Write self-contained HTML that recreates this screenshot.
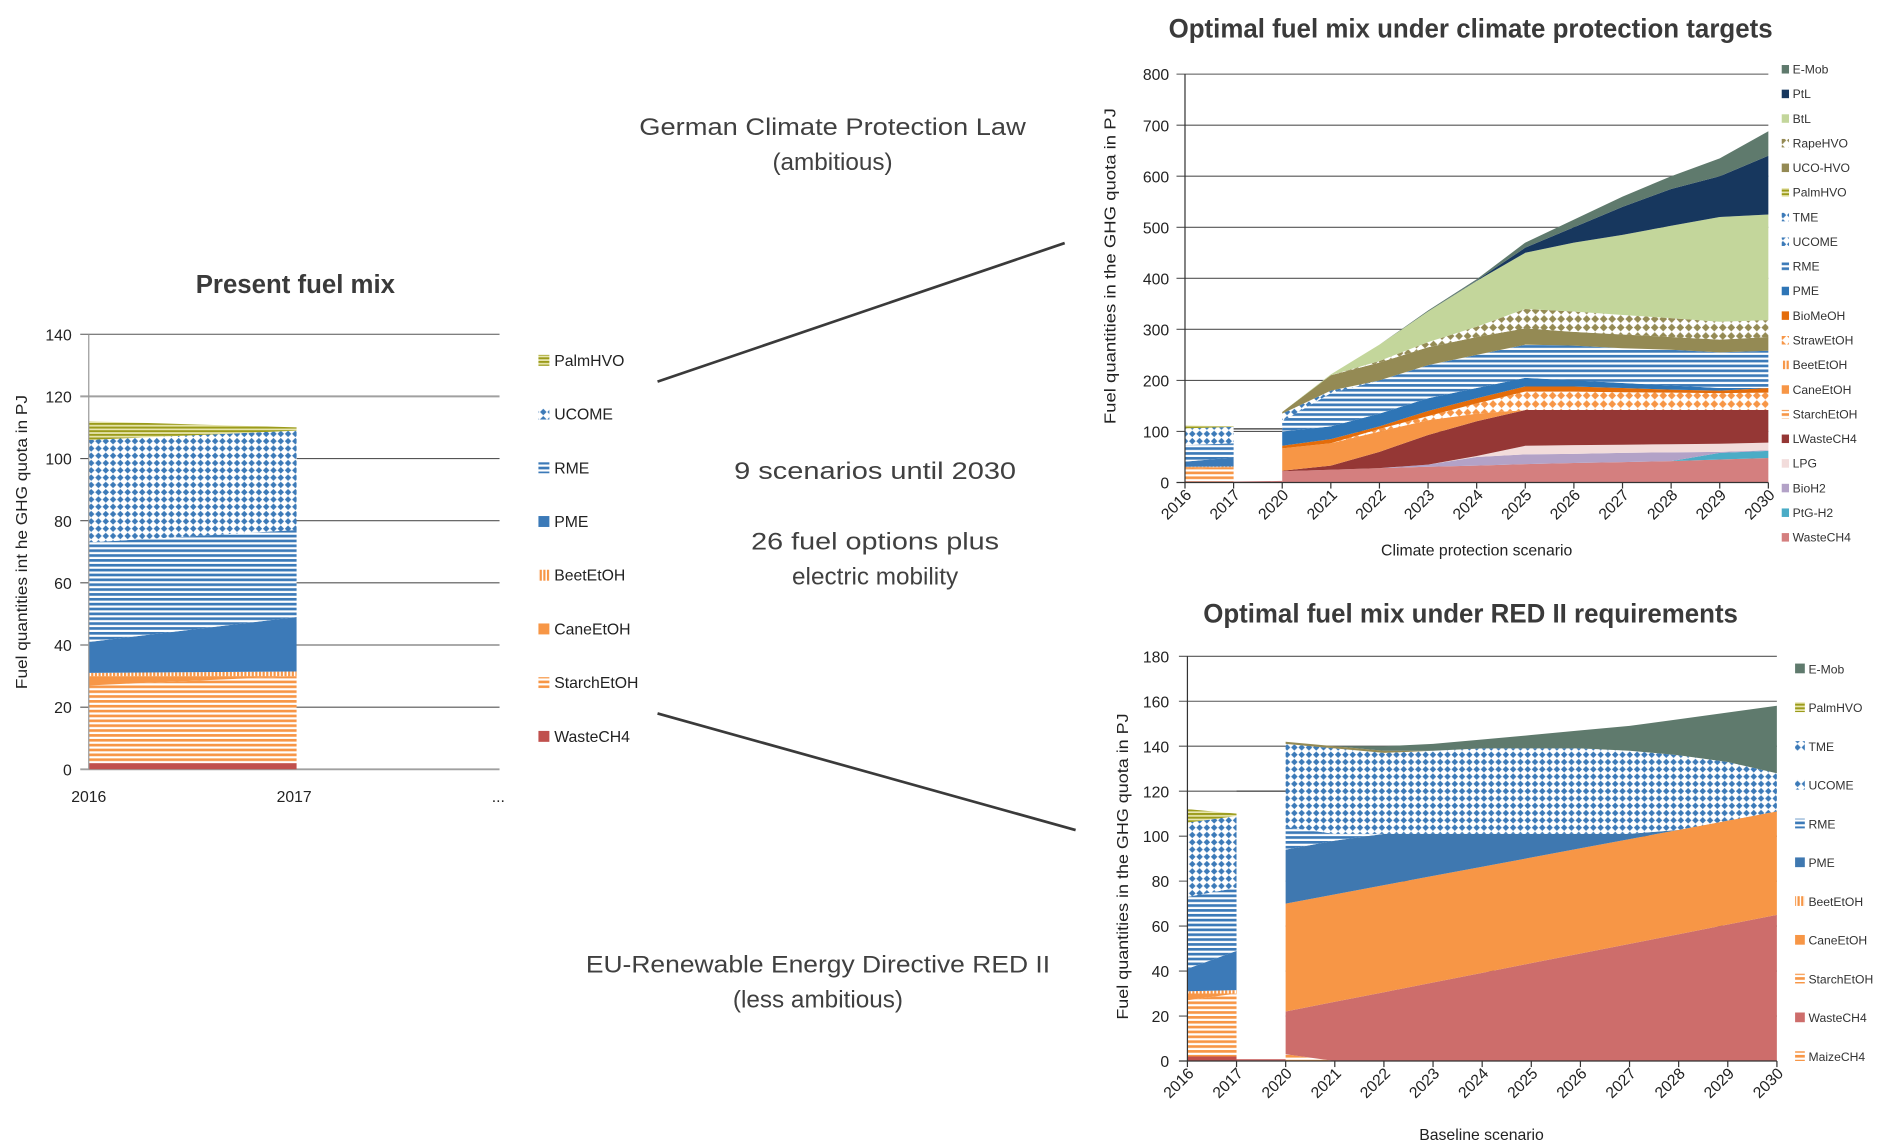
<!DOCTYPE html>
<html><head><meta charset="utf-8">
<style>
html,body{margin:0;padding:0;background:#fff;}
svg{display:block;}
text{font-family:"Liberation Sans",sans-serif;fill:#404040;}
.t{font-family:"Liberation Sans Narrow","Liberation Sans",sans-serif;fill:#3a3a3a;font-weight:bold;}
.mid{font-size:20px;fill:#404040;}
.tick{font-size:13px;fill:#222;}
.lg{font-size:10px;fill:#333;}
</style></head><body>
<svg id="s" width="1896" height="1144" viewBox="0 0 1560 941.3" xmlns="http://www.w3.org/2000/svg">
<defs>
<pattern id="hB" width="6" height="4" patternUnits="userSpaceOnUse"><rect width="6" height="4" fill="#fff"/><rect width="6" height="2.2" fill="#3c7ab8"/></pattern>
<pattern id="hO" width="6" height="4" patternUnits="userSpaceOnUse"><rect width="6" height="4" fill="#fff"/><rect width="6" height="2.2" fill="#f79646"/></pattern>
<pattern id="hG" width="6" height="3" patternUnits="userSpaceOnUse"><rect width="6" height="3" fill="#e8e6b0"/><rect width="6" height="1.6" fill="#9b9b1a"/></pattern>
<pattern id="vO" width="3" height="6" patternUnits="userSpaceOnUse"><rect width="3" height="6" fill="#fff"/><rect width="1.8" height="6" fill="#f79646"/></pattern>
<pattern id="dB" width="6" height="6" patternUnits="userSpaceOnUse"><rect width="6" height="6" fill="#fff"/><path d="M3 0.3L5.7 3L3 5.7L0.3 3Z" fill="#3c7ab8"/></pattern>
<pattern id="dO" width="7" height="7" patternUnits="userSpaceOnUse"><rect width="7" height="7" fill="#fff"/><path d="M3.5 0.3L6.7 3.5L3.5 6.7L0.3 3.5Z" fill="#f79646"/></pattern>
<pattern id="dG" width="7" height="7" patternUnits="userSpaceOnUse"><rect width="7" height="7" fill="#fff"/><path d="M3.5 0.3L6.7 3.5L3.5 6.7L0.3 3.5Z" fill="#948a54"/></pattern>
</defs>

<text class="t" x="243" y="241" font-size="21" text-anchor="middle" textLength="164" lengthAdjust="spacingAndGlyphs">Present fuel mix</text>
<text class="t" x="1210" y="31" font-size="22" text-anchor="middle" textLength="497" lengthAdjust="spacingAndGlyphs">Optimal fuel mix under climate protection targets</text>
<text class="t" x="1210" y="512" font-size="22" text-anchor="middle" textLength="440" lengthAdjust="spacingAndGlyphs">Optimal fuel mix under RED II requirements</text>

<text class="mid" x="685" y="111" text-anchor="middle" textLength="318" lengthAdjust="spacingAndGlyphs">German Climate Protection Law</text>
<text class="mid" x="685" y="140" text-anchor="middle">(ambitious)</text>
<text class="mid" x="720" y="394" text-anchor="middle" textLength="232" lengthAdjust="spacingAndGlyphs">9 scenarios until 2030</text>
<text class="mid" x="720" y="452" text-anchor="middle" textLength="204" lengthAdjust="spacingAndGlyphs">26 fuel options plus</text>
<text class="mid" x="720" y="481" text-anchor="middle">electric mobility</text>
<text class="mid" x="673" y="800" text-anchor="middle" textLength="382" lengthAdjust="spacingAndGlyphs">EU-Renewable Energy Directive RED II</text>
<text class="mid" x="673" y="829" text-anchor="middle">(less ambitious)</text>
<line x1="541" y1="314" x2="876" y2="200" stroke="#3a3a3a" stroke-width="2.2"/>
<line x1="541" y1="587" x2="885" y2="683" stroke="#3a3a3a" stroke-width="2.2"/>

<g id="g"></g>
</svg>
<script>
var g=document.getElementById('g'),h='';
function poly(pts,fill){h+='<polygon points="'+pts.map(function(p){return p[0].toFixed(1)+','+p[1].toFixed(1)}).join(' ')+'" fill="'+fill+'"/>';}
function line(x1,y1,x2,y2,c,w){h+='<line x1="'+x1+'" y1="'+y1+'" x2="'+x2+'" y2="'+y2+'" stroke="'+c+'" stroke-width="'+w+'"/>';}
function txt(x,y,s,cls,extra){h+='<text x="'+x+'" y="'+y+'" class="'+cls+'" '+(extra||'')+'>'+s+'</text>';}
function stack(xs,layers,Y){var prev=xs.map(function(){return 0});
 layers.forEach(function(L){var top=L[0],pts=[];
  for(var i=0;i<xs.length;i++)pts.push([xs[i],Y(top[i])]);
  for(var i=xs.length-1;i>=0;i--)pts.push([xs[i],Y(prev[i])]);
  poly(pts,L[1]);prev=top;});}
var barL=[[[2,2],'#c0504d'],[[27,30],'url(#hO)'],[[30,30],'#f79646'],[[31,31.5],'url(#vO)'],[[41,49],'#3c7ab8'],[[73,77],'url(#hB)'],[[106,109],'url(#dB)'],[[112,110],'url(#hG)']];

(function(){var Y=function(v){return 633-v*2.557};
 for(var v=20;v<=140;v+=20){line(66,Y(v),411,Y(v),v==120?'#a0a0a0':'#555',v==120?1.6:0.9);}
 line(66,633,411,633,'#a0a0a0',1.6);
 stack([73,244],barL,Y);
 line(73,275,73,633,'#999',1);
 for(var v=0;v<=140;v+=20)txt(59,Y(v)+5,v,'tick','text-anchor="end"');
 txt(73,660,'2016','tick','text-anchor="middle"');txt(242,660,'2017','tick','text-anchor="middle"');txt(410,660,'...','tick','text-anchor="middle"');
 txt(0,0,'Fuel quantities int he GHG quota in PJ','tick','font-size="12" text-anchor="middle" transform="translate(22,446) rotate(-90)" textLength="242" lengthAdjust="spacingAndGlyphs"');
 var lg=[['PalmHVO','url(#hG)'],['UCOME','url(#dB)'],['RME','url(#hB)'],['PME','#3c7ab8'],['BeetEtOH','url(#vO)'],['CaneEtOH','#f79646'],['StarchEtOH','url(#hO)'],['WasteCH4','#c0504d']];
 lg.forEach(function(l,i){var y=297+i*44.2;h+='<rect x="443" y="'+(y-5)+'" width="9" height="9" fill="'+l[1]+'"/>';txt(456,y+4,l[0],'tick');});
})();

(function(){var Y=function(v){return 397-v*0.42},X=function(i){return 975+40*i};
 for(var v=100;v<=800;v+=100)line(968,Y(v),1455,Y(v),'#555',0.9);
 var xs=[];for(var i=2;i<=12;i++)xs.push(X(i));
 var L=[
 [[22,25,28,31,33,36,38,40,42,45,48],'#d47f7f'],
 [[22,25,28,31,33,36,38,40,42,58,62],'#4bacc6'],
 [[22,25,28,35,50,55,56,58,59,60,63],'#b3a2c7'],
 [[22,25,28,35,52,72,73,74,75,76,78],'#f2dcdb'],
 [[23,33,60,93,120,142,142,142,142,142,142],'#953735'],
 [[67,77,100,122,135,142,142,142,142,142,142],'#f79646'],
 [[67,77,105,130,155,178,178,177,176,175,176],'url(#dO)'],
 [[72,85,110,140,165,188,188,185,182,180,185],'#e46c0a'],
 [[100,110,135,165,185,205,200,195,190,185,185],'#2e75b6'],
 [[120,175,200,230,250,270,268,263,260,255,258],'url(#hB)'],
 [[135,180,200,230,250,270,268,263,260,255,258],'url(#dB)'],
 [[138,210,235,265,285,302,295,290,285,280,285],'#948a54'],
 [[138,210,238,275,305,340,335,328,322,315,318],'url(#dG)'],
 [[138,212,270,335,395,450,470,485,503,520,525],'#c3d69b'],
 [[138,212,270,335,396,460,500,540,575,600,640],'#17375e'],
 [[138,212,270,337,398,470,515,560,600,635,688],'#5f7a6d']];
 stack(xs,L,Y);
 stack([X(0),X(1)],barL,Y);
 poly([[X(1),Y(2)],[X(2),Y(3)],[X(2),Y(0)],[X(1),Y(0)]],'#d47f7f');
 line(X(1),Y(105),X(2),Y(105),'#333',1);
 line(975,61,975,397,'#333',1);line(968,397,1455,397,'#333',1);
 for(var i=0;i<=12;i++){line(X(i),397,X(i),402,'#333',1);}
 for(var v=0;v<=800;v+=100)txt(962,Y(v)+5,v,'tick','text-anchor="end"');
 var yr=['2016','2017','2020','2021','2022','2023','2024','2025','2026','2027','2028','2029','2030'];
 yr.forEach(function(y,i){txt(0,0,y,'tick','text-anchor="end" transform="translate('+(X(i)+6)+',408) rotate(-45)"');});
 txt(1215,457,'Climate protection scenario','tick','text-anchor="middle"');
 txt(0,0,'Fuel quantities in the GHG quota in PJ','tick','font-size="12" text-anchor="middle" transform="translate(918,219) rotate(-90)" textLength="260" lengthAdjust="spacingAndGlyphs"');
 var lg=[['E-Mob','#5f7a6d'],['PtL','#17375e'],['BtL','#c3d69b'],['RapeHVO','url(#dG)'],['UCO-HVO','#948a54'],['PalmHVO','url(#hG)'],['TME','url(#dB)'],['UCOME','url(#dB)'],['RME','url(#hB)'],['PME','#2e75b6'],['BioMeOH','#e46c0a'],['StrawEtOH','url(#dO)'],['BeetEtOH','url(#vO)'],['CaneEtOH','#f79646'],['StarchEtOH','url(#hO)'],['LWasteCH4','#953735'],['LPG','#f2dcdb'],['BioH2','#b3a2c7'],['PtG-H2','#4bacc6'],['WasteCH4','#d47f7f']];
 lg.forEach(function(l,i){var y=57+i*20.27;h+='<rect x="1466" y="'+(y-3.5)+'" width="6" height="7" fill="'+l[1]+'"/>';txt(1475,y+3.5,l[0],'lg');});
})();

(function(){var Y=function(v){return 873-v*1.85},X=function(i){return 977+40.42*i};
 for(var v=20;v<=180;v+=20)line(970,Y(v),1462,Y(v),'#555',0.9);
 var xs=[];for(var i=2;i<=12;i++)xs.push(X(i));
 var L=[
 [[3,0,0,0,0,0,0,0,0,0,0],'url(#hO)'],
 [[22,26.3,30.6,34.9,39.2,43.5,47.8,52.1,56.4,60.7,65],'#cd6d6b'],
 [[70,74.1,78.2,82.3,86.4,90.5,94.6,98.7,102.8,106.9,111],'#f79646'],
 [[94,98,101,101,101,101,101,101,102.8,106.9,111],'#3f78b0'],
 [[104,101,101,101,101,101,101,101,102.8,106.9,111],'url(#hB)'],
 [[141,139,137,138,139,139,139,138,136,133,128],'url(#dB)'],
 [[142,140,138,138,139,139,139,138,136,133,128],'#948a54'],
 [[142,140,140,141,143,145,147,149,152,155,158],'#5f7a6d']];
 h+='<rect x="'+X(1)+'" y="'+Y(120)+'" width="'+(X(2)-X(1))+'" height="'+(Y(0)-Y(120))+'" fill="#fff"/>';
 line(X(1),Y(120),X(2),Y(120),'#333',1);
 stack(xs,L,Y);
 stack([X(0),X(1)],barL,Y);
 poly([[X(1),Y(0.8)],[X(2),Y(0.8)],[X(2),Y(0)],[X(1),Y(0)]],'#cd6d6b');
 line(977,540,977,873,'#333',1);line(970,873,1462,873,'#333',1);
 for(var i=0;i<=12;i++){line(X(i),873,X(i),878,'#333',1);}
 for(var v=0;v<=180;v+=20)txt(962,Y(v)+5,v,'tick','text-anchor="end"');
 var yr=['2016','2017','2020','2021','2022','2023','2024','2025','2026','2027','2028','2029','2030'];
 yr.forEach(function(y,i){txt(0,0,y,'tick','text-anchor="end" transform="translate('+(X(i)+6)+',884) rotate(-45)"');});
 txt(1219,938,'Baseline scenario','tick','text-anchor="middle"');
 txt(0,0,'Fuel quantities in the GHG quota in PJ','tick','font-size="12" text-anchor="middle" transform="translate(928,713) rotate(-90)" textLength="252" lengthAdjust="spacingAndGlyphs"');
 var lg=[['E-Mob','#5f7a6d'],['PalmHVO','url(#hG)'],['TME','url(#dB)'],['UCOME','url(#dB)'],['RME','url(#hB)'],['PME','#3f78b0'],['BeetEtOH','url(#vO)'],['CaneEtOH','#f79646'],['StarchEtOH','url(#hO)'],['WasteCH4','#cd6d6b'],['MaizeCH4','url(#hO)']];
 lg.forEach(function(l,i){var y=550+i*31.9;h+='<rect x="1477" y="'+(y-4)+'" width="8" height="8" fill="'+l[1]+'"/>';txt(1488,y+4,l[0],'lg','font-size="11"');});
})();
g.innerHTML=h;
</script>
</body></html>
